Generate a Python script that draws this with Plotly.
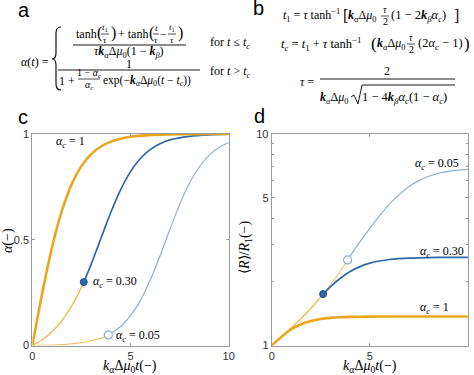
import plotly.graph_objects as go

# ---------------- data ----------------
# panel c : alpha(t)
t_c1 = [0, 0.25, 0.5, 0.75, 1, 1.25, 1.5, 1.75, 2, 2.5, 3, 3.5, 4, 5, 6, 7, 8, 9, 10]
a_c1 = [0, 0.124, 0.245, 0.358, 0.462, 0.555, 0.635, 0.703, 0.762, 0.848, 0.905, 0.941, 0.964, 0.987, 0.995, 0.998, 0.999, 1.0, 1.0]

t_pre30 = [0, 0.5, 1, 1.5, 2, 2.3, 2.62]
a_pre30 = [0, 0.027, 0.065, 0.117, 0.186, 0.236, 0.300]
t_post30 = [2.62, 3, 3.5, 4, 4.5, 5, 5.5, 6, 6.5, 7, 8, 9, 10]
a_post30 = [0.300, 0.385, 0.508, 0.630, 0.737, 0.822, 0.884, 0.926, 0.954, 0.972, 0.989, 0.996, 0.999]

t_pre05 = [0, 0.5, 1, 1.5, 2, 2.5, 3, 3.5, 3.87]
a_pre05 = [0, 0.001, 0.002, 0.004, 0.008, 0.013, 0.022, 0.035, 0.050]
t_post05 = [3.87, 4, 4.5, 5, 5.5, 6, 6.5, 7, 7.5, 8, 8.5, 9, 9.5, 10]
a_post05 = [0.050, 0.057, 0.090, 0.141, 0.212, 0.308, 0.423, 0.547, 0.666, 0.767, 0.844, 0.899, 0.936, 0.960]

# panel d : <R>/R1(t)
t_r1 = [0, 0.25, 0.5, 0.75, 1, 1.5, 2, 2.5, 3, 3.5, 4, 5, 6, 7, 8, 9, 10]
r_1 = [1, 1.05, 1.10, 1.15, 1.195, 1.26, 1.305, 1.334, 1.351, 1.361, 1.366, 1.37, 1.372, 1.372, 1.372, 1.372, 1.372]

t_rpre = [0, 0.5, 1, 1.5, 2, 2.5, 2.62, 3, 3.5, 3.87]
r_pre = [1, 1.102, 1.213, 1.343, 1.500, 1.694, 1.750, 1.941, 2.249, 2.541]
t_rpre30 = [0, 0.5, 1, 1.5, 2, 2.5, 2.62]
r_pre30 = [1, 1.102, 1.213, 1.343, 1.500, 1.694, 1.750]

t_rpost30 = [2.62, 3, 3.5, 4, 4.5, 5, 5.5, 6, 6.5, 7, 8, 9, 10]
r_post30 = [1.75, 1.90, 2.08, 2.24, 2.36, 2.45, 2.51, 2.55, 2.573, 2.589, 2.605, 2.611, 2.613]
t_rpost05 = [3.87, 4, 4.5, 5, 5.5, 6, 6.5, 7, 7.5, 8, 8.5, 9, 9.5, 10]
r_post05 = [2.54, 2.65, 3.09, 3.58, 4.11, 4.66, 5.17, 5.64, 6.02, 6.31, 6.52, 6.66, 6.75, 6.80]

tc_30, ac_30, rc_30 = 2.62, 0.30, 1.75
tc_05, ac_05, rc_05 = 3.87, 0.05, 2.54

x_ticks = [0, 5, 10]
c_yticks = [0, 0.5, 1]
c_ytext = ["0", "0.5", "1"]
d_yticks = [1, 5, 10]
d_minor = [2, 3, 4, 6, 7, 8, 9]

# ---------------- style ----------------
W, H = 474, 375
ORG = "#EBA61E"
ORG_T = "#F0B84A"
BLU = "#2D68A8"
LBL = "#8DB0D2"
SERIF = "Liberation Serif"
SANS = "Liberation Sans"
AX = "#9a9a9a"
FS = 12


def px(x):
    return x / W


def py(y):
    return 1 - y / H


fig = go.Figure()


def line(x, y, color, width, xa, ya):
    fig.add_trace(go.Scatter(x=x, y=y, mode="lines", xaxis=xa, yaxis=ya,
                             line=dict(color=color, width=width, shape="spline", smoothing=0.8),
                             hoverinfo="skip", showlegend=False))


# panel c
line(t_pre05, a_pre05, ORG_T, 1.0, "x", "y")
line(t_post05, a_post05, LBL, 1.2, "x", "y")
line(t_pre30, a_pre30, ORG_T, 1.3, "x", "y")
line(t_post30, a_post30, BLU, 1.7, "x", "y")
line(t_c1, a_c1, ORG, 2.6, "x", "y")
fig.add_trace(go.Scatter(x=[tc_30], y=[ac_30], mode="markers", xaxis="x", yaxis="y",
                         marker=dict(size=7, color=BLU, line=dict(color="#1d4f86", width=1)),
                         showlegend=False, hoverinfo="skip"))
fig.add_trace(go.Scatter(x=[tc_05], y=[ac_05], mode="markers", xaxis="x", yaxis="y",
                         marker=dict(size=8, color="white", line=dict(color=LBL, width=1.2)),
                         showlegend=False, hoverinfo="skip"))

# panel d
line(t_rpre, r_pre, ORG_T, 1.0, "x2", "y2")
line(t_rpre30, r_pre30, ORG_T, 1.3, "x2", "y2")
line(t_rpost05, r_post05, LBL, 1.2, "x2", "y2")
line(t_rpost30, r_post30, BLU, 1.7, "x2", "y2")
line(t_r1, r_1, ORG, 2.6, "x2", "y2")
fig.add_trace(go.Scatter(x=[tc_30], y=[rc_30], mode="markers", xaxis="x2", yaxis="y2",
                         marker=dict(size=7, color=BLU, line=dict(color="#1d4f86", width=1)),
                         showlegend=False, hoverinfo="skip"))
fig.add_trace(go.Scatter(x=[tc_05], y=[rc_05], mode="markers", xaxis="x2", yaxis="y2",
                         marker=dict(size=8, color="white", line=dict(color=LBL, width=1.2)),
                         showlegend=False, hoverinfo="skip"))

axcommon = dict(showline=True, linecolor=AX, linewidth=1, mirror="ticks", ticks="inside",
                ticklen=3, tickcolor=AX, showgrid=False, zeroline=False, automargin=False,
                tickfont=dict(family=SANS, size=11, color="#333"))

fig.update_layout(
    width=W, height=H, margin=dict(l=0, r=0, t=0, b=0, autoexpand=False),
    paper_bgcolor="white", plot_bgcolor="white", showlegend=False,
    xaxis=dict(domain=[px(32.3), px(228.7)], range=[0, 10], tickvals=x_ticks, anchor="y", **axcommon),
    yaxis=dict(domain=[py(345.5), py(134)], range=[0, 1], tickvals=c_yticks, ticktext=c_ytext,
               anchor="x", **axcommon),
    xaxis2=dict(domain=[px(271.7), px(467.9)], range=[0, 10], tickvals=x_ticks, anchor="y2", **axcommon),
    yaxis2=dict(domain=[py(345.5), py(134)], type="log", range=[0, 1], tickvals=d_yticks,
                ticktext=[str(v) for v in d_yticks], anchor="x2",
                minor=dict(tickvals=d_minor, ticks="inside", ticklen=2, tickcolor=AX, showgrid=False),
                **axcommon),
)

ann = []
shapes = []


def T(text, x, y, size=FS, xa="left", fam=SERIF, angle=0, color="black"):
    ann.append(dict(text=text, x=px(x), y=py(y), xref="paper", yref="paper",
                    xanchor=xa, yanchor="middle", showarrow=False, textangle=angle,
                    font=dict(size=size, family=fam, color=color), borderpad=0))


def L(x0, x1, y, w=0.9):
    shapes.append(dict(type="line", xref="paper", yref="paper", x0=px(x0), x1=px(x1),
                       y0=py(y), y1=py(y), line=dict(color="black", width=w)))


def PATH(pts, w=1.0):
    d = "M " + " L ".join(f"{px(a):.5f},{py(b):.5f}" for a, b in pts)
    shapes.append(dict(type="path", xref="paper", yref="paper", path=d,
                       line=dict(color="black", width=w)))


def FRAC(top, bot, xc, y, half, size=9):
    T(top, xc, y - 6, size=size, xa="center")
    L(xc - half, xc + half, y, 0.7)
    T(bot, xc, y + 6, size=size, xa="center")


KB = "<b><i>k</i></b>"
KA = KB + "<sub><i>α</i></sub>Δ<i>μ</i><sub>0</sub>"
AC = "<i>α</i><sub><i>c</i></sub>"

# panel letters
T("a", 17, 10, size=20, fam=SANS)
T("b", 252, 8, size=20, fam=SANS)
T("c", 17, 117, size=20, fam=SANS)
T("d", 253, 116, size=20, fam=SANS)

# ---- panel a equation ----
T("<i>α</i>(<i>t</i>) =", 50, 62, xa="right")
brace = [(61, 27), (56, 27), (56, 33), (56, 53), (56, 59), (52, 59), (56, 59), (56, 65), (56, 84), (56, 90), (61, 90)]
p = [f"{px(a):.5f},{py(b):.5f}" for a, b in brace]
shapes.append(dict(type="path", xref="paper", yref="paper",
                   path=f"M {p[0]} Q {p[1]} {p[2]} L {p[3]} Q {p[4]} {p[5]} Q {p[6]} {p[7]} L {p[8]} Q {p[9]} {p[10]}",
                   line=dict(color="black", width=1.1)))

ny = 34
T("tanh", 75, ny)
T("(", 96, ny - 1, size=16)
FRAC("<i>t</i><sub>1</sub>", "<i>τ</i>", 105, ny, 4, size=9)
T(")", 110, ny - 1, size=16)
T("+ tanh", 117, ny)
T("(", 148, ny - 1, size=16)
FRAC("<i>t</i>", "<i>τ</i>", 156, ny, 3, size=9)
T("−", 163, ny, xa="center")
FRAC("<i>t</i><sub>1</sub>", "<i>τ</i>", 172, ny, 4, size=9)
T(")", 177, ny - 1, size=16)
L(73, 186, 45)
T("<i>τ</i>" + KA + "(1 − " + KB + "<sub><i>β</i></sub>)", 129, 52, xa="center")
T("for <i>t</i> ≤ <i>t</i><sub><i>c</i></sub>", 209, 43)

T("1", 129, 64, xa="center")
L(58, 200, 70)
T("1 +", 58, 81)
FRAC("1 − " + AC, AC, 89, 79, 11, size=10)
T("exp(−" + KA + "(<i>t</i> − <i>t</i><sub><i>c</i></sub>))", 102, 81, size=11.5)
T("for <i>t</i> > <i>t</i><sub><i>c</i></sub>", 209, 72)

# ---- panel b equations ----
r1 = 16
T("<i>t</i><sub>1</sub> = <i>τ</i> tanh<sup>−1</sup>", 282, r1)
T("[", 342, r1 - 1, size=16)
T(KA, 347, r1)
FRAC("<i>τ</i>", "2", 385, r1, 4, size=10)
T("(1 − 2" + KB + "<sub><i>β</i></sub>" + AC + ")", 390, r1, size=12.5)
T("]", 453, r1 - 1, size=16)

r2 = 44
T("<i>t</i><sub><i>c</i></sub> = <i>t</i><sub>1</sub> + <i>τ</i> tanh<sup>−1</sup>", 280, r2, size=12.5)
T("(", 370, r2 - 1, size=17)
T(KA, 376, r2)
FRAC("<i>τ</i>", "2", 411, r2, 4, size=10)
T("(2" + AC + " − 1)", 417, r2, size=12.5)
T(")", 463, r2 - 1, size=17)

T("<i>τ</i> =", 299, 82)
T("2", 387, 71, xa="center")
L(320, 455, 79)
T(KA, 319, 98)
PATH([(351, 97), (354, 95), (358, 104), (362, 85), (455, 85)], 0.9)
T("1 − 4" + KB + "<sub><i>β</i></sub>" + AC + "(1 − " + AC + ")", 361, 98, size=12.5)

# ---- curve labels ----
T(AC + " = 1", 55, 142, size=12)
T(AC + " = 0.30", 92, 282, size=12)
T(AC + " = 0.05", 115, 336, size=12)
T(AC + " = 0.05", 414, 164, size=12)
T(AC + " = 0.30", 419, 252, size=12)
T(AC + " = 1", 419, 308, size=12)

# ---- axis titles ----
XT = "<i>k</i><sub><i>α</i></sub>Δ<i>μ</i><sub>0</sub><i>t</i>(−)"
T(XT, 130, 366, size=14, xa="center")
T(XT, 370, 366, size=14, xa="center")
T("<i>α</i>(−)", 8, 240, size=14, xa="center", angle=-90)
T("⟨<i>R</i>⟩/<i>R</i><sub>1</sub>(−)", 245, 248, size=14, xa="center", angle=-90)

fig.update_layout(annotations=ann, shapes=shapes)
fig.write_html("out.html", config={"displayModeBar": False},
               post_script="document.body.style.margin='0';document.body.style.overflow='hidden';")
